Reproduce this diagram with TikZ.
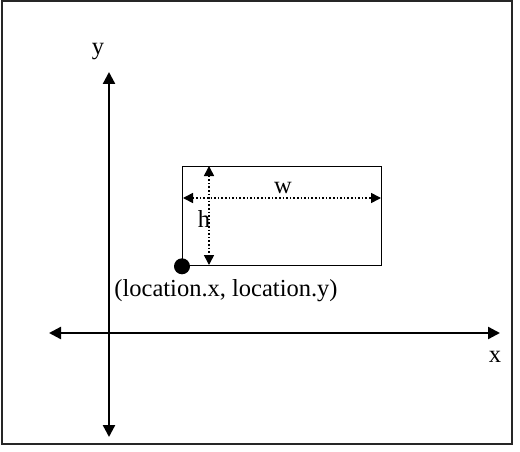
\documentclass[tikz,border=0pt]{standalone}
\usepackage{fontspec}
\setmainfont{Liberation Serif}
\usetikzlibrary{arrows.meta}
\begin{document}
\begin{tikzpicture}[x=1pt,y=-1pt,
  axis/.style={line width=2.3pt,{Triangle[length=12pt,width=12pt]}-{Triangle[length=12pt,width=12pt]}},
  dim/.style={line width=1.6pt,dotted,{Triangle[length=10pt,width=10pt]}-{Triangle[length=10pt,width=10pt]}},
  lbl/.style={inner sep=0pt,font=\fontsize{24.5}{28}\selectfont}]
\useasboundingbox (0,0) rectangle (520,452);
\draw[line width=1.3pt,black!85] (2,1) rectangle (512,444);
\coordinate (ytop) at (109,72);
\coordinate (ybot) at (109,437);
\coordinate (xl) at (49,333);
\coordinate (xr) at (500,333);
\draw[axis] (ybot) -- (ytop);
\draw[axis] (xl) -- (xr);
\node[lbl] (ylab) at (98,52) {y};
\node[lbl] (xlab) at (495,357) {x};
\node[draw,line width=1.3pt,minimum width=199pt,minimum height=99pt,inner sep=0pt,anchor=north west] (rect) at (182,166) {};
\coordinate (htop) at (209,166);
\coordinate (hbot) at (209,265);
\coordinate (wl) at (183,198);
\coordinate (wr) at (381,198);
\draw[dim] (htop) -- (hbot);
\draw[dim] (wl) -- (wr);
\node[lbl] (wlab) at (283,188) {w};
\node[lbl] (hlab) at (204,219) {h};
\node[circle,fill=black,minimum size=16pt,inner sep=0pt] (dot) at (rect.south west) {};
\node[lbl] (loc) at (226,291) {(location.x, location.y)};
\end{tikzpicture}
\end{document}
